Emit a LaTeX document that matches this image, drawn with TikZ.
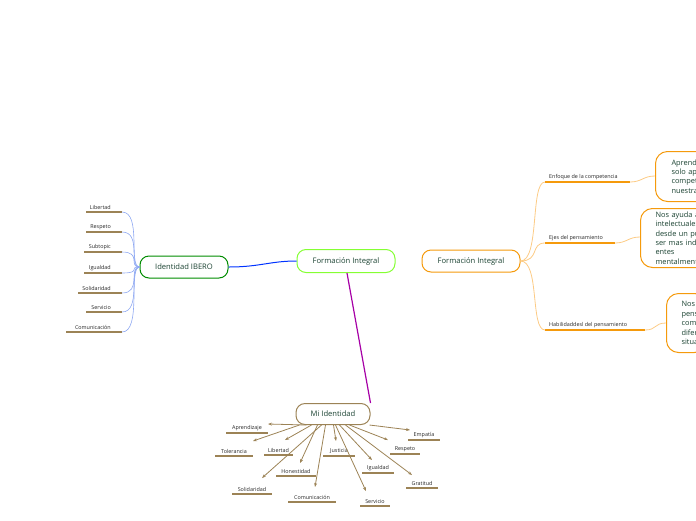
\documentclass[tikz,border=0pt]{standalone}
\usepackage{fontspec}
\setmainfont{Open Sans}
\usetikzlibrary{arrows.meta}
\begin{document}
\begin{tikzpicture}[x=1pt,y=-1pt,
 box/.style={draw,rounded corners=9pt,line width=1pt,fill=white,text=txt,font=\fontsize{7.6}{8}\selectfont,inner sep=0pt},
 lbl/.style={font=\fontsize{5.4}{6}\selectfont,text=black!85,anchor=south,inner sep=1pt},
 ul/.style={line width=1.3pt},
 arr/.style={draw=brn,line width=0.8pt,-{Stealth[length=4pt,width=3pt]}},
 big/.style={draw=orange,rounded corners=12pt,line width=1pt,fill=white,text=txt,font=\fontsize{7.4}{9.4}\selectfont,align=left,anchor=north west,inner sep=0pt}]
\definecolor{txt}{HTML}{1B4332}
\definecolor{brn}{HTML}{9C8356}
\definecolor{orange}{HTML}{F59A0C}
\definecolor{lorange}{HTML}{FCCB85}
\definecolor{lblue}{HTML}{8EA8F2}
\useasboundingbox (0,0) rectangle (696,520);
\clip (0,0) rectangle (696,520);
% left
\node[box,draw=green!55!black,minimum width=88pt,minimum height=22pt] (ib) at (184,267) {Identidad IBERO};
\node[box,draw=green!60!yellow!80,minimum width=98pt,minimum height=23pt] (fi) at (346,261) {Formación Integral};
\node[box,draw=orange,minimum width=98pt,minimum height=22pt] (fr) at (471,261) {Formación Integral};
\node[box,draw=brn,minimum width=74pt,minimum height=21pt] (mi) at (333,414) {Mi Identidad};
\foreach \t/\y/\a in {Libertad/212/86,Respeto/232/86,Subtopic/252/84,Igualdad/273/84,Solidaridad/293/78,Servicio/312/86,Comunicación/332/66}{
  \coordinate (L\y) at (122,\y);
  \draw[brn,ul] (\a,\y) -- (L\y);
  \node[lbl,anchor=south east] at (112,\y-1) {\t};
  \draw[lblue,line width=0.6pt] (L\y) .. controls (142,\y) and (128,267) .. (ib.west);
}
\draw[blue!80!cyan,line width=1pt] (ib.east) .. controls (260,267) and (270,261) .. (fi.west);
\draw[violet!70!magenta,line width=1.2pt] (fi.south) ++(1,0) coordinate (p1) -- (mi.north east) ;
% right branches
\foreach \t/\y/\e/\bx/\by in {Enfoque de la competencia/182/630/655/176,Ejes del pensamiento/243/615/640/237,Habilidaddesl del pensamiento/330/645/666/323}{
  \coordinate (s\y) at (545,\y);
  \coordinate (e\y) at (\e,\y);
  \draw[orange,ul] (s\y) -- (e\y);
  \node[lbl,anchor=south west] at (548,\y-1) {\t};
  \draw[lorange,line width=0.8pt] (fr.east) .. controls (540,261) and (530,\y) .. (s\y);
  \draw[lorange,line width=0.8pt] (e\y) .. controls (\e+12,\y) and (\bx-12,\by) .. (\bx,\by);
}
\node[big,text width=56pt,minimum height=50pt] (b1) at (655,151) {\hspace*{16pt}\parbox[c][50pt][c]{60pt}{Aprendemos no\\solo aplicar las\\competencias de\\nuestra vida}};
\node[big,text width=70pt,minimum height=59pt] (b2) at (640,208) {\hspace*{15pt}\parbox[c][59pt][c]{80pt}{Nos ayuda a ser\\intelectuales y\\desde un punto\\ser mas independientes\\mentalmente}};
\node[big,text width=40pt,minimum height=59pt] (b3) at (666,293) {\hspace*{15pt}\parbox[c][59pt][c]{40pt}{Nos\\pensar\\comunicar\\diferentes\\situaciones}};
% Mi identidad children
\foreach \t/\lx/\ly/\a/\b/\sx/\ex/\ey in {
 Aprendizaje/247/433/226/268/307/268/424,
 Tolerancia/234/456/215/253/300/253/441,
 Libertad/276/455/264/293/312/285/440,
 Honestidad/296/476/276/316/318/300/463,
 Solidaridad/252/494/232/272/322/262/478,
 Comunicación/312/502/288/336/326/315/487,
 Justicia/338/456/323/355/334/336/441,
 Igualdad/378/473/362/394/340/372/460,
 Servicio/374/506/360/390/336/366/491,
 Respeto/403/454/390/420/350/388/440,
 Gratitud/422/488/406/438/346/412/475,
 Empatía/424/440/408/440/370/410/430}{
  \coordinate (u\a\ly) at (\a,\ly);
  \coordinate (v\a\ly) at (\b,\ly);
  \draw[brn,ul] (u\a\ly) -- (v\a\ly);
  \node[lbl] at ({(\a+\b)/2},\ly-1) {\t};
  \coordinate (t\a\ly) at (\ex,\ey);
  \draw[arr] (mi.south west) ++(\sx-296,0) coordinate (f\a\ly) -- (t\a\ly);
}
\end{tikzpicture}
\end{document}
